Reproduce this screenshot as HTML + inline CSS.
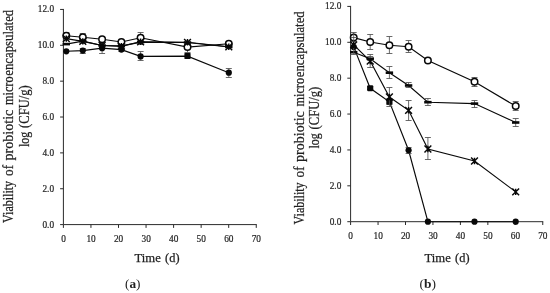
<!DOCTYPE html>
<html><head><meta charset="utf-8"><title>Figure</title>
<style>
html,body{margin:0;padding:0;background:#fff}
svg{display:block}
text{font-family:"Liberation Serif",serif;fill:#1f1f1f}
.tk text{font-size:9.3px;fill:#262626;stroke:#262626;stroke-width:0.2px}
.ti{font-size:12.6px;stroke:#1f1f1f;stroke-width:0.25px}
.yt{font-size:13.8px;stroke:#1f1f1f;stroke-width:0.25px}
.cap{font-size:13.3px}
</style></head><body>
<svg width="550" height="293" viewBox="0 0 550 293">
<rect width="550" height="293" fill="#fff"/>
<path d="M63.4 8.94V224.6H256.75" fill="none" stroke="#2a2a2a" stroke-width="1"/>
<path d="M60.1 224.6H63.4M60.1 188.74H63.4M60.1 152.88H63.4M60.1 117.02H63.4M60.1 81.16H63.4M60.1 45.3H63.4M60.1 9.44H63.4M63.4 224.6V227.9M90.95 224.6V227.9M118.5 224.6V227.9M146.05 224.6V227.9M173.6 224.6V227.9M201.15 224.6V227.9M228.7 224.6V227.9M256.25 224.6V227.9" fill="none" stroke="#2a2a2a" stroke-width="1"/>
<g class="tk" text-anchor="end">
<text x="54.1" y="227.5">0.0</text>
<text x="54.1" y="191.64">2.0</text>
<text x="54.1" y="155.78">4.0</text>
<text x="54.1" y="119.92">6.0</text>
<text x="54.1" y="84.06">8.0</text>
<text x="54.1" y="48.2">10.0</text>
<text x="54.1" y="12.34">12.0</text>
</g>
<g class="tk" text-anchor="middle">
<text x="63.5" y="241.9">0</text>
<text x="91.05" y="241.9">10</text>
<text x="118.6" y="241.9">20</text>
<text x="146.15" y="241.9">30</text>
<text x="173.7" y="241.9">40</text>
<text x="201.25" y="241.9">50</text>
<text x="228.8" y="241.9">60</text>
<text x="256.35" y="241.9">70</text>
</g>
<text class="yt" transform="translate(13.1 222.9) rotate(-90)" textLength="42" lengthAdjust="spacingAndGlyphs">Viability</text>
<text class="yt" transform="translate(13.1 175.9) rotate(-90)" textLength="10.9" lengthAdjust="spacingAndGlyphs">of</text>
<text class="yt" transform="translate(13.1 160.4) rotate(-90)" textLength="50.7" lengthAdjust="spacingAndGlyphs">probiotic</text>
<text class="yt" transform="translate(13.1 105) rotate(-90)" textLength="28.5" lengthAdjust="spacingAndGlyphs">micro</text>
<text class="yt" transform="translate(13.1 75.7) rotate(-90)" textLength="65.9" lengthAdjust="spacingAndGlyphs">encapsulated</text>
<text class="yt" transform="translate(28.6 147.1) rotate(-90)" textLength="15.3" lengthAdjust="spacingAndGlyphs">log</text>
<text class="yt" transform="translate(28.6 127.9) rotate(-90)" textLength="42.6" lengthAdjust="spacingAndGlyphs">(CFU/g)</text>
<text class="ti" x="134.5" y="261.5" textLength="26.3" lengthAdjust="spacingAndGlyphs">Time</text>
<text class="ti" x="165.1" y="261.5" textLength="14.4" lengthAdjust="spacingAndGlyphs">(d)</text>
<text class="cap" x="125" y="288.2" textLength="15.5" lengthAdjust="spacingAndGlyphs">(<tspan font-weight="bold">a</tspan>)</text>
<polyline points="66.3,35.7 82.8,37.2 102.1,39.3 121.4,42 140.6,37.8 187.5,47.1 228.8,43.8" fill="none" stroke="#080808" stroke-width="1.15"/>
<path d="M66.3 32.5V37.5M63.3 32.5h6M63.3 37.5h6M82.8 33.5V43.5M79.8 33.5h6M79.8 43.5h6M140.6 32.5V44.5M137.6 32.5h6M137.6 44.5h6M187.5 42.5V52.5M184.5 42.5h6M184.5 52.5h6M228.8 41.5V46.5M225.8 41.5h6M225.8 46.5h6" fill="none" stroke="#505050" stroke-width="0.85"/>
<circle cx="66.3" cy="35.7" r="3.25" fill="#fff" stroke="#080808" stroke-width="1.5"/>
<circle cx="82.8" cy="37.2" r="3.25" fill="#fff" stroke="#080808" stroke-width="1.5"/>
<circle cx="102.1" cy="39.3" r="3.25" fill="#fff" stroke="#080808" stroke-width="1.5"/>
<circle cx="121.4" cy="42" r="3.25" fill="#fff" stroke="#080808" stroke-width="1.5"/>
<circle cx="140.6" cy="37.8" r="3.25" fill="#fff" stroke="#080808" stroke-width="1.5"/>
<circle cx="187.5" cy="47.1" r="3.25" fill="#fff" stroke="#080808" stroke-width="1.5"/>
<circle cx="228.8" cy="43.8" r="3.25" fill="#fff" stroke="#080808" stroke-width="1.5"/>
<polyline points="66.3,51.3 82.8,50.6 102.1,48.2 121.4,49.6 140.6,56.4 187.5,56.1 228.8,72.7" fill="none" stroke="#080808" stroke-width="1.15"/>
<path d="M82.8 48.5V53.5M79.8 48.5h6M79.8 53.5h6M102.1 43.5V53.5M99.1 43.5h6M99.1 53.5h6M121.4 47.5V51.5M118.4 47.5h6M118.4 51.5h6M140.6 51.5V60.5M137.6 51.5h6M137.6 60.5h6M187.5 53.5V58.5M184.5 53.5h6M184.5 58.5h6M228.8 68.5V77.5M225.8 68.5h6M225.8 77.5h6" fill="none" stroke="#505050" stroke-width="0.85"/>
<circle cx="66.3" cy="51.3" r="3.1" fill="#080808"/>
<circle cx="82.8" cy="50.6" r="3.1" fill="#080808"/>
<circle cx="102.1" cy="48.2" r="3.1" fill="#080808"/>
<circle cx="121.4" cy="49.6" r="3.1" fill="#080808"/>
<circle cx="140.6" cy="56.4" r="3.1" fill="#080808"/>
<rect x="184.4" y="53.1" width="6.2" height="6" rx="1.3" fill="#080808"/>
<circle cx="228.8" cy="72.7" r="3.1" fill="#080808"/>
<polyline points="66.3,44.1 82.8,41.2 102.1,45.5 121.4,46.1 140.6,42.2 187.5,42.5 228.8,47" fill="none" stroke="#080808" stroke-width="1.15"/>
<rect x="62.6" y="42.8" width="7.4" height="2.6" fill="#080808"/>
<rect x="79.1" y="39.9" width="7.4" height="2.6" fill="#080808"/>
<rect x="98.4" y="44.2" width="7.4" height="2.6" fill="#080808"/>
<rect x="117.7" y="44.8" width="7.4" height="2.6" fill="#080808"/>
<rect x="136.9" y="40.9" width="7.4" height="2.6" fill="#080808"/>
<rect x="183.8" y="41.2" width="7.4" height="2.6" fill="#080808"/>
<rect x="225.1" y="45.7" width="7.4" height="2.6" fill="#080808"/>
<polyline points="66.3,38.6 82.8,41.4 102.1,45.5 121.4,46.1 140.6,41.8 187.5,42.3 228.8,46.8" fill="none" stroke="#080808" stroke-width="1.15"/>
<path d="M62.9 35.2l6.8 6.8M62.9 42l6.8 -6.8M66.3 35.4v6.4" fill="none" stroke="#080808" stroke-width="1.45"/>
<path d="M79.4 38l6.8 6.8M79.4 44.8l6.8 -6.8M82.8 38.2v6.4" fill="none" stroke="#080808" stroke-width="1.45"/>
<path d="M98.7 42.1l6.8 6.8M98.7 48.9l6.8 -6.8M102.1 42.3v6.4" fill="none" stroke="#080808" stroke-width="1.45"/>
<path d="M118 42.7l6.8 6.8M118 49.5l6.8 -6.8M121.4 42.9v6.4" fill="none" stroke="#080808" stroke-width="1.45"/>
<path d="M137.2 38.4l6.8 6.8M137.2 45.2l6.8 -6.8M140.6 38.6v6.4" fill="none" stroke="#080808" stroke-width="1.45"/>
<path d="M184.1 38.9l6.8 6.8M184.1 45.7l6.8 -6.8M187.5 39.1v6.4" fill="none" stroke="#080808" stroke-width="1.45"/>
<path d="M225.4 43.4l6.8 6.8M225.4 50.2l6.8 -6.8M228.8 43.6v6.4" fill="none" stroke="#080808" stroke-width="1.45"/>
<path d="M350.6 5.92V221.7H543.25" fill="none" stroke="#2a2a2a" stroke-width="1"/>
<path d="M347.3 221.7H350.6M347.3 185.82H350.6M347.3 149.94H350.6M347.3 114.06H350.6M347.3 78.18H350.6M347.3 42.3H350.6M347.3 6.42H350.6M350.6 221.7V225M378.05 221.7V225M405.5 221.7V225M432.95 221.7V225M460.4 221.7V225M487.85 221.7V225M515.3 221.7V225M542.75 221.7V225" fill="none" stroke="#2a2a2a" stroke-width="1"/>
<g class="tk" text-anchor="end">
<text x="341.3" y="224.6">0.0</text>
<text x="341.3" y="188.72">2.0</text>
<text x="341.3" y="152.84">4.0</text>
<text x="341.3" y="116.96">6.0</text>
<text x="341.3" y="81.08">8.0</text>
<text x="341.3" y="45.2">10.0</text>
<text x="341.3" y="9.32">12.0</text>
</g>
<g class="tk" text-anchor="middle">
<text x="350.7" y="239">0</text>
<text x="378.15" y="239">10</text>
<text x="405.6" y="239">20</text>
<text x="433.05" y="239">30</text>
<text x="460.5" y="239">40</text>
<text x="487.95" y="239">50</text>
<text x="515.4" y="239">60</text>
<text x="542.85" y="239">70</text>
</g>
<text class="yt" transform="translate(303.6 224.4) rotate(-90)" textLength="42" lengthAdjust="spacingAndGlyphs">Viability</text>
<text class="yt" transform="translate(303.6 177.4) rotate(-90)" textLength="10.9" lengthAdjust="spacingAndGlyphs">of</text>
<text class="yt" transform="translate(303.6 161.9) rotate(-90)" textLength="50.7" lengthAdjust="spacingAndGlyphs">probiotic</text>
<text class="yt" transform="translate(303.6 106.5) rotate(-90)" textLength="28.5" lengthAdjust="spacingAndGlyphs">micro</text>
<text class="yt" transform="translate(303.6 77.2) rotate(-90)" textLength="65.9" lengthAdjust="spacingAndGlyphs">encapsulated</text>
<text class="yt" transform="translate(319.1 148.6) rotate(-90)" textLength="15.3" lengthAdjust="spacingAndGlyphs">log</text>
<text class="yt" transform="translate(319.1 129.4) rotate(-90)" textLength="42.6" lengthAdjust="spacingAndGlyphs">(CFU/g)</text>
<text class="ti" x="424.5" y="261.5" textLength="26.3" lengthAdjust="spacingAndGlyphs">Time</text>
<text class="ti" x="455.1" y="261.5" textLength="14.4" lengthAdjust="spacingAndGlyphs">(d)</text>
<text class="cap" x="419.5" y="288.2" textLength="16.5" lengthAdjust="spacingAndGlyphs">(<tspan font-weight="bold">b</tspan>)</text>
<polyline points="353.7,37.6 370.2,42.05 389.4,45.2 408.6,46.8 427.9,60.5 474.5,81.8 515.7,106.1" fill="none" stroke="#080808" stroke-width="1.15"/>
<path d="M353.7 32.5V41.5M350.7 32.5h6M350.7 41.5h6M370.2 34.5V49.5M367.2 34.5h6M367.2 49.5h6M389.4 36.5V53.5M386.4 36.5h6M386.4 53.5h6M408.6 40.5V52.5M405.6 40.5h6M405.6 52.5h6M474.5 77.5V86.5M471.5 77.5h6M471.5 86.5h6M515.7 101.5V110.5M512.7 101.5h6M512.7 110.5h6" fill="none" stroke="#505050" stroke-width="0.85"/>
<circle cx="353.7" cy="37.6" r="3.25" fill="#fff" stroke="#080808" stroke-width="1.5"/>
<circle cx="370.2" cy="42.05" r="3.25" fill="#fff" stroke="#080808" stroke-width="1.5"/>
<circle cx="389.4" cy="45.2" r="3.25" fill="#fff" stroke="#080808" stroke-width="1.5"/>
<circle cx="408.6" cy="46.8" r="3.25" fill="#fff" stroke="#080808" stroke-width="1.5"/>
<circle cx="427.9" cy="60.5" r="3.25" fill="#fff" stroke="#080808" stroke-width="1.5"/>
<circle cx="474.5" cy="81.8" r="3.25" fill="#fff" stroke="#080808" stroke-width="1.5"/>
<circle cx="515.7" cy="106.1" r="3.25" fill="#fff" stroke="#080808" stroke-width="1.5"/>
<polyline points="353.7,46.9 370.2,88.3 389.4,101.8 408.6,150.3 427.9,221.7 474.5,221.7 515.7,221.7" fill="none" stroke="#080808" stroke-width="1.15"/>
<path d="M370.2 86.5V89.5M367.2 86.5h6M367.2 89.5h6M389.4 98.5V104.5M386.4 98.5h6M386.4 104.5h6M408.6 147.5V153.5M405.6 147.5h6M405.6 153.5h6" fill="none" stroke="#505050" stroke-width="0.85"/>
<circle cx="353.7" cy="46.9" r="3.1" fill="#080808"/>
<rect x="367.1" y="85.3" width="6.2" height="6" rx="1.3" fill="#080808"/>
<rect x="386.3" y="98.8" width="6.2" height="6" rx="1.3" fill="#080808"/>
<circle cx="408.6" cy="150.3" r="3.1" fill="#080808"/>
<circle cx="427.9" cy="221.7" r="3.1" fill="#080808"/>
<circle cx="474.5" cy="221.7" r="3.1" fill="#080808"/>
<circle cx="515.7" cy="221.7" r="3.1" fill="#080808"/>
<polyline points="353.7,52.2 370.2,58.8 389.4,72.7 408.6,85.5 427.9,102.2 474.5,103.6 515.7,122.5" fill="none" stroke="#080808" stroke-width="1.15"/>
<path d="M370.2 56.5V60.5M367.2 56.5h6M367.2 60.5h6M389.4 66.5V78.5M386.4 66.5h6M386.4 78.5h6M408.6 82.5V87.5M405.6 82.5h6M405.6 87.5h6M427.9 98.5V105.5M424.9 98.5h6M424.9 105.5h6M474.5 100.5V107.5M471.5 100.5h6M471.5 107.5h6M515.7 118.5V126.5M512.7 118.5h6M512.7 126.5h6" fill="none" stroke="#505050" stroke-width="0.85"/>
<rect x="350" y="50.9" width="7.4" height="2.6" fill="#080808"/>
<rect x="366.5" y="57.5" width="7.4" height="2.6" fill="#080808"/>
<rect x="385.7" y="71.4" width="7.4" height="2.6" fill="#080808"/>
<rect x="404.9" y="84.2" width="7.4" height="2.6" fill="#080808"/>
<rect x="424.2" y="100.9" width="7.4" height="2.6" fill="#080808"/>
<rect x="470.8" y="102.3" width="7.4" height="2.6" fill="#080808"/>
<rect x="512" y="121.2" width="7.4" height="2.6" fill="#080808"/>
<polyline points="353.7,44.9 370.2,61.1 389.4,97 408.6,110.3 427.9,149 474.5,161 515.7,191.9" fill="none" stroke="#080808" stroke-width="1.15"/>
<path d="M353.7 34V54.5M350.7 37.5h6M350.7 54.5h6M370.2 54.5V67.5M367.2 54.5h6M367.2 67.5h6M389.4 87.5V106.5M386.4 87.5h6M386.4 106.5h6M408.6 100.5V120.5M405.6 100.5h6M405.6 120.5h6M427.9 137.5V159.5M424.9 137.5h6M424.9 159.5h6" fill="none" stroke="#505050" stroke-width="0.85"/>
<path d="M350.3 41.5l6.8 6.8M350.3 48.3l6.8 -6.8M353.7 41.7v6.4" fill="none" stroke="#080808" stroke-width="1.45"/>
<path d="M366.8 57.7l6.8 6.8M366.8 64.5l6.8 -6.8M370.2 57.9v6.4" fill="none" stroke="#080808" stroke-width="1.45"/>
<path d="M386 93.6l6.8 6.8M386 100.4l6.8 -6.8M389.4 93.8v6.4" fill="none" stroke="#080808" stroke-width="1.45"/>
<path d="M405.2 106.9l6.8 6.8M405.2 113.7l6.8 -6.8M408.6 107.1v6.4" fill="none" stroke="#080808" stroke-width="1.45"/>
<path d="M424.5 145.6l6.8 6.8M424.5 152.4l6.8 -6.8M427.9 145.8v6.4" fill="none" stroke="#080808" stroke-width="1.45"/>
<path d="M471.1 157.6l6.8 6.8M471.1 164.4l6.8 -6.8M474.5 157.8v6.4" fill="none" stroke="#080808" stroke-width="1.45"/>
<path d="M512.3 188.5l6.8 6.8M512.3 195.3l6.8 -6.8M515.7 188.7v6.4" fill="none" stroke="#080808" stroke-width="1.45"/>
</svg>
</body></html>
